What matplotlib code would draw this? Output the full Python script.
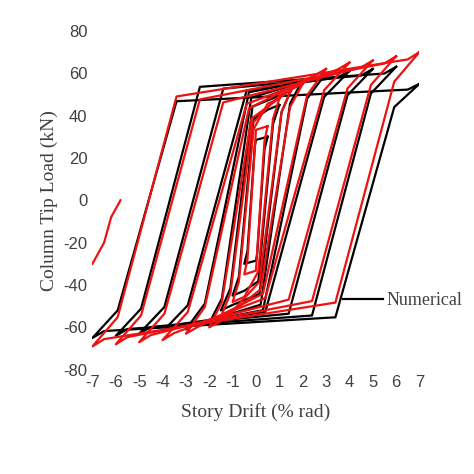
import matplotlib
matplotlib.use("Agg")
import matplotlib.pyplot as plt
import numpy as np
plt.rcParams["axes.unicode_minus"] = False

# Numerical (black) cycles: amplitude (% rad), positive peak, negative peak (kN)
num_amp = [0.5, 1, 1.5, 2, 3, 4, 5, 6, 7]
num_pos = [30, 45, 52, 57, 60, 61, 62, 63, 55]
num_neg = [-30, -45, -52, -58, -61, -62, -63, -64, -65]
# Experimental (red) cycles
exp_amp = [0.5, 1, 1.5, 2, 3, 4, 5, 6, 7]
exp_pos = [35, 48, 52, 55, 62, 65, 66, 68, 70]
exp_neg = [-35, -48, -55, -60, -63, -66, -67, -68, -69]
# red end branch points
exp_tail_x = [-7, -6.5, -6.2, -5.8]
exp_tail_y = [-30, -20, -8, 0]

x_ticks = list(range(-7, 8))
y_ticks = list(range(-80, 81, 20))

def loop(a, fp, fn, soft):
    d = min(3.6, a * 0.9)
    xs = [a, a - 0.3 * d, a - d, -a + 0.5, -a, -a + 0.3 * d, -a + d, a - 0.5, a]
    ys = [fp, fp * 0.8, fn * soft, fn * 0.95, fn, fn * 0.8, fp * soft, fp * 0.95, fp]
    return xs, ys

fig = plt.figure(figsize=(4.74, 4.74), dpi=100)
ax = fig.add_axes([0.195, 0.22, 0.69, 0.715])
for a, fp, fn in zip(num_amp, num_pos, num_neg):
    xs, ys = loop(a, fp, fn, 0.85)
    ax.plot(xs, ys, color="black", lw=1.6)
for a, fp, fn in zip(exp_amp, exp_pos, exp_neg):
    xs, ys = loop(a, fp, fn, 0.7)
    ax.plot(xs, ys, color="#ee1111", lw=1.6)
ax.plot(exp_tail_x, exp_tail_y, color="#ee1111", lw=1.6)
ax.plot([], [], color="black", lw=1.6, label="Numerical")

ax.set_xlim(-7, 7)
ax.set_ylim(-80, 80)
ax.set_xticks(x_ticks)
ax.set_yticks(y_ticks)
for s in ax.spines.values():
    s.set_visible(False)
ax.tick_params(length=0, labelsize=12, colors="#404040")
for t in ax.get_xticklabels() + ax.get_yticklabels():
    t.set_family("Liberation Sans")
ax.set_xlabel("Story Drift (% rad)", family="Liberation Serif", fontsize=14, color="#404040", labelpad=10)
ax.set_ylabel("Column Tip Load (kN)", family="Liberation Serif", fontsize=14, color="#404040")
leg = ax.legend(loc="lower right", bbox_to_anchor=(1.18, 0.13), frameon=False,
                prop={"family": "Liberation Serif", "size": 13}, handlelength=2.2, handletextpad=0.2)
for t in leg.get_texts():
    t.set_color("#404040")
fig.savefig("out.png", dpi=100)
